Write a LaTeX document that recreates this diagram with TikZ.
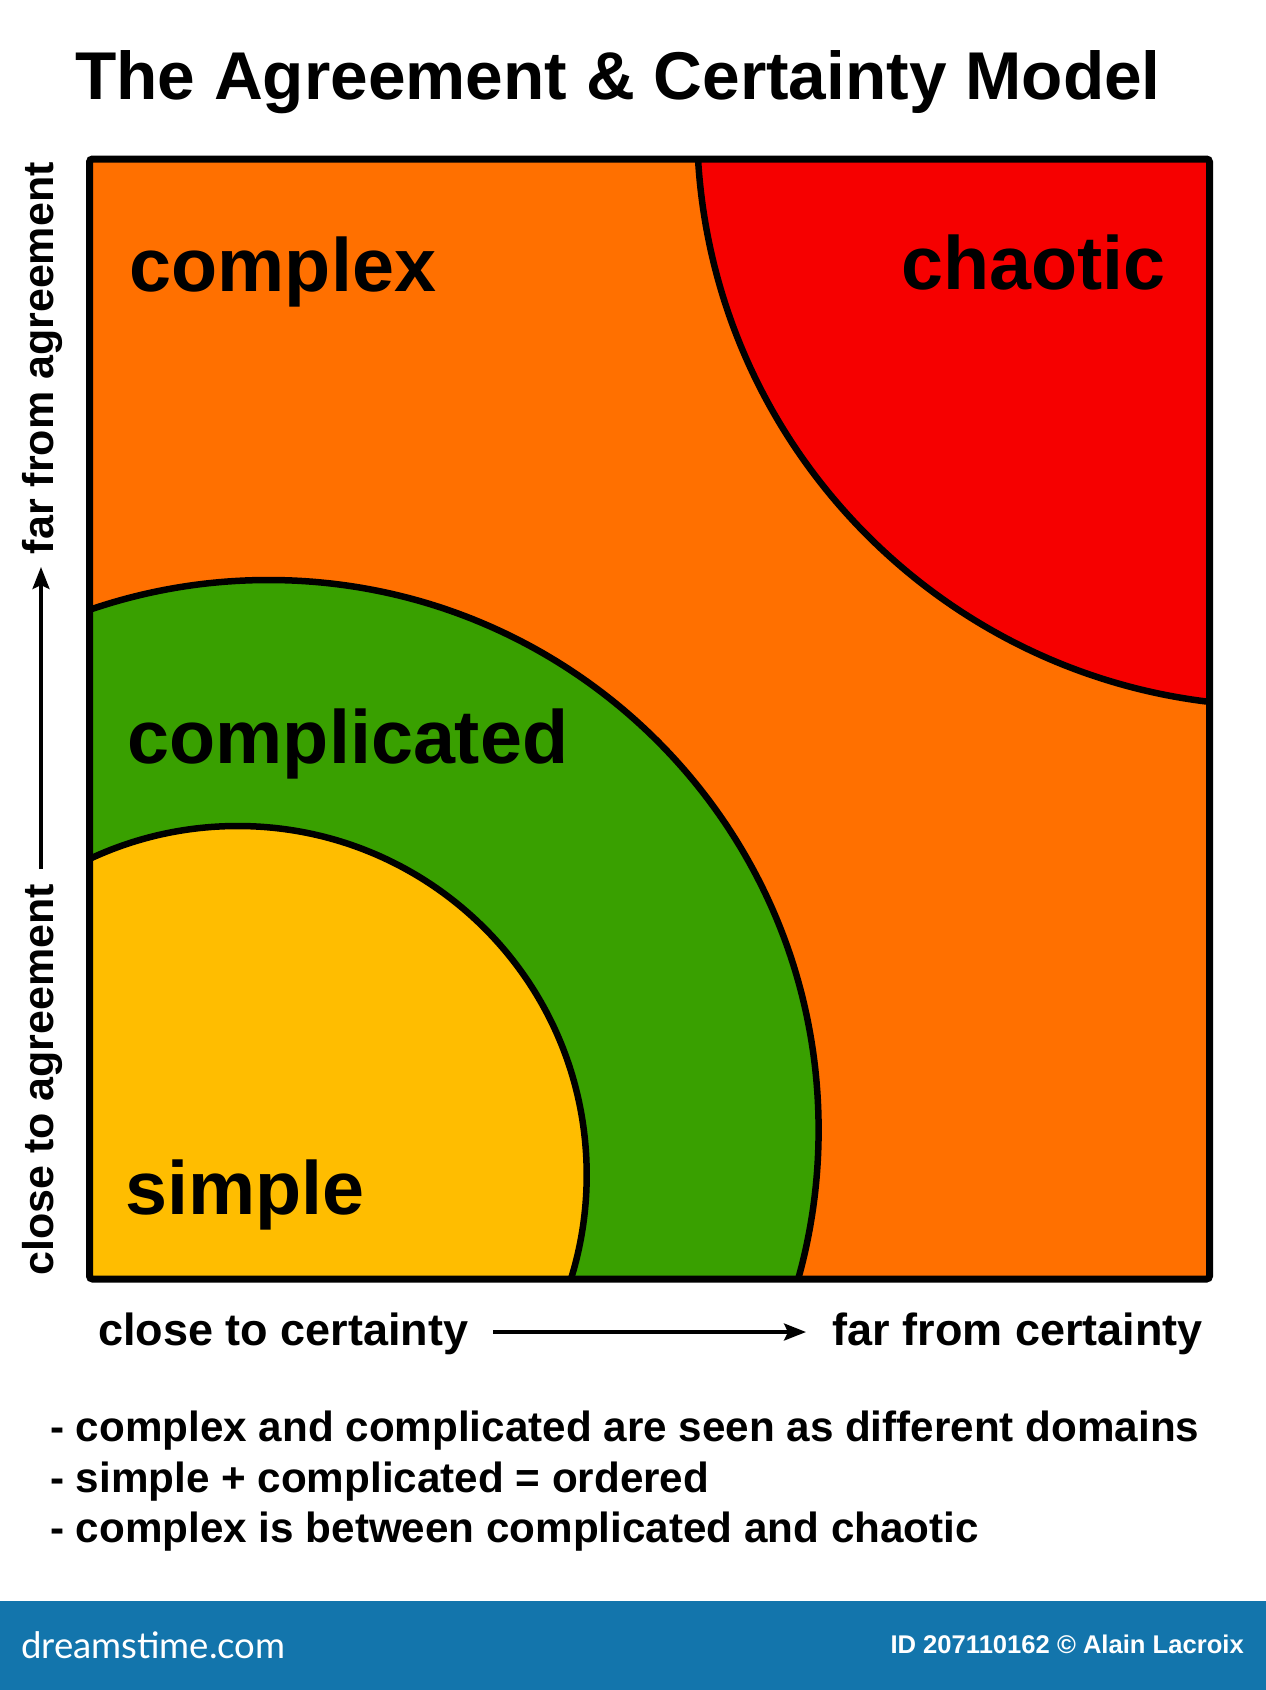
\documentclass[tikz,border=0pt]{standalone}
\usepackage{fontspec}
\setmainfont{Liberation Sans}
\newfontfamily\logofont{Lato}
\usetikzlibrary{arrows.meta}
\definecolor{orangeC}{RGB}{255,112,0}
\definecolor{redC}{RGB}{246,0,0}
\definecolor{greenC}{RGB}{57,160,0}
\definecolor{yellowC}{RGB}{255,189,0}
\definecolor{barC}{RGB}{19,117,172}
\begin{document}
\begin{tikzpicture}[x=1pt,y=-1pt,
  zone/.style={font=\fontsize{75.5}{80}\selectfont\bfseries, inner sep=0pt},
  axislbl/.style={font=\fontsize{45}{50}\selectfont\bfseries, inner sep=0pt},
  vaxislbl/.style={font=\fontsize{43}{50}\selectfont\bfseries, inner sep=0pt, rotate=90},
  note/.style={font=\fontsize{42.2}{48}\selectfont\bfseries, inner sep=0pt, anchor=base west},
  zoneline/.style={line width=6.5pt, draw=black},
  axisarrow/.style={line width=3.5pt, -{Stealth[length=22pt,width=17pt,inset=4pt]}}]

\useasboundingbox (0,0) rectangle (1266,1690);
\fill[white] (0,0) rectangle (1266,1690);

% title
\node[font=\fontsize{67.6}{72}\selectfont\bfseries, inner sep=0pt, anchor=base] (title) at (618,99) {The Agreement \& Certainty Model};

% square with zones
\coordinate (TL) at (89.5,159);
\coordinate (BR) at (1209.5,1279);
\fill[orangeC] (TL) rectangle (BR);
\begin{scope}
  \clip (TL) rectangle (BR);
  \filldraw[fill=redC, zoneline] (1279,124) circle[radius=582pt];
  \filldraw[fill=greenC, zoneline] (268.6,1130) circle[radius=550pt];
  \filldraw[fill=yellowC, zoneline] (237.7,1175) circle[radius=349pt];
\end{scope}
\draw[line width=7pt, rounded corners=3pt] (TL) rectangle (BR);

% zone labels
\node[zone, anchor=base west] (complex) at (129.5,291) {complex};
\node[zone, anchor=base east] (chaotic) at (1166,289) {chaotic};
\node[zone, anchor=base west] (complicated) at (127.5,763) {complicated};
\node[zone, anchor=base west] (simple) at (125.5,1214) {simple};

% horizontal axis
\node[axislbl, anchor=base west] (hclose) at (98,1345) {close to certainty};
\node[axislbl, anchor=base east] (hfar) at (1203,1345) {far from certainty};
\coordinate (hs) at (493,1332);
\coordinate (he) at (806,1332);
\draw[axisarrow] (hs) -- (he);

% vertical axis
\node[vaxislbl, anchor=base west] (vclose) at (53,1276) {close to agreement};
\node[vaxislbl, anchor=base east] (vfar) at (53,162) {far from agreement};
\coordinate (vs) at (41,869);
\coordinate (ve) at (41,567);
\draw[axisarrow] (vs) -- (ve);

% notes
\node[note] (n1) at (50,1441) {- complex and complicated are seen as different domains};
\node[note] (n2) at (50,1492) {- simple + complicated = ordered};
\node[note] (n3) at (50,1542) {- complex is between complicated and chaotic};

% footer bar
\fill[barC] (0,1601) rectangle (1266,1690);
\node[font=\logofont\fontsize{36.5}{40}\selectfont, text=white, inner sep=0pt, anchor=base west] (logo) at (21,1658) {dreamstime.com};
\node[font=\fontsize{25.6}{30}\selectfont\bfseries, text=white, inner sep=0pt, anchor=base east] (credit) at (1244,1653) {ID 207110162 © Alain Lacroix};
\end{tikzpicture}
\end{document}
